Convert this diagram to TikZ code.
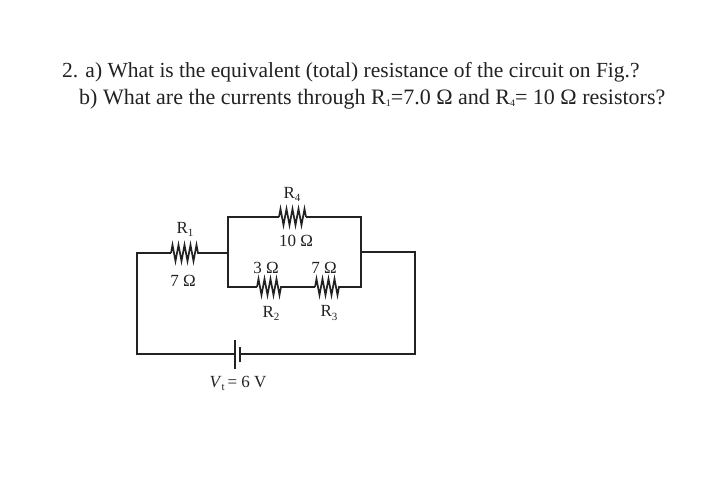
\documentclass[tikz,border=0pt]{standalone}
\usepackage{fontspec}
\setmainfont{Liberation Serif}
\usetikzlibrary{decorations.pathmorphing}
\definecolor{ink}{HTML}{222222}
\tikzset{
  wire/.style={draw=ink,line width=1.4pt,line join=miter},
  res/.style={draw=ink,line width=1.7pt,decorate,decoration={zigzag,segment length=6pt,amplitude=8pt}},
  question/.style={inner sep=0pt,anchor=base west,text=ink,font=\fontsize{21.5}{25}\selectfont},
  questiontwo/.style={question,font=\fontsize{22}{25}\selectfont},
  lab/.style={inner sep=0pt,anchor=base,text=ink,font=\fontsize{17}{20}\selectfont},
  plate/.style={draw=ink,line width=1.6pt}
}
\newcommand{\sub}[1]{\raisebox{-3pt}{\fontsize{11}{12}\selectfont #1}}
\newcommand{\tinysub}[1]{\raisebox{-1.5pt}{\fontsize{10}{11}\selectfont #1}}
\begin{document}
\begin{tikzpicture}[x=1pt,y=-1pt]
\useasboundingbox (0,0) rectangle (723,478);
\fill[white] (0,0) rectangle (723,478);
\node[question] (q1) at (62,78) {2. a) What is the equivalent (total) resistance of the circuit on Fig.?};
\node[questiontwo] (q2) at (79,105) {b) What are the currents through R\tinysub{1}=7.0 Ω and R\tinysub{4}= 10 Ω resistors?};
% junctions
\coordinate (ll) at (137,253);
\coordinate (bl) at (137,354);
\coordinate (br) at (415,354);
\coordinate (rr) at (415,252);
\coordinate (jr) at (361,252);
\coordinate (jl) at (228,253);
\coordinate (tl) at (228,217);
\coordinate (tr) at (361,217);
\coordinate (dl) at (228,287);
\coordinate (dr) at (361,287);
% resistors ends
\coordinate (r1a) at (171,253); \coordinate (r1b) at (199,253);
\coordinate (r4a) at (279,217); \coordinate (r4b) at (306,217);
\coordinate (r2a) at (257,287); \coordinate (r2b) at (283,287);
\coordinate (r3a) at (315,287); \coordinate (r3b) at (341,287);
% battery
\coordinate (b1) at (235,354); \coordinate (b2) at (241,354);
\coordinate (b1t) at (235,340); \coordinate (b1b) at (235,369);
\coordinate (b2t) at (240,347); \coordinate (b2b) at (240,362);
\draw[wire] (r1a) -- (ll) -- (bl) -- (b1);
\draw[wire] (b2) -- (br) -- (rr) -- (jr);
\draw[wire] (r1b) -- (jl);
\draw[wire] (r4a) -- (tl) -- (dl) -- (r2a);
\draw[wire] (r4b) -- (tr) -- (dr) -- (r3b);
\draw[wire] (r2b) -- (r3a);
\draw[res] (r1a) -- (r1b);
\draw[res] (r4a) -- (r4b);
\draw[res] (r2a) -- (r2b);
\draw[res] (r3a) -- (r3b);
\draw[plate] (b1t) -- (b1b);
\draw[plate] (b2t) -- (b2b);
\node[lab] (lr1) at (185,234) {R\sub{1}};
\node[lab] (l7a) at (183,287) {7 Ω};
\node[lab] (lr4) at (292,199) {R\sub{4}};
\node[lab] (l10) at (296,247) {10 Ω};
\node[lab] (l3) at (266,274) {3 Ω};
\node[lab] (l7b) at (324,274) {7 Ω};
\node[lab] (lr2) at (271,318) {R\sub{2}};
\node[lab] (lr3) at (329,317) {R\sub{3}};
\node[lab] (lv) at (238,387) {\textit{V}\sub{t}\,= 6 V};
\end{tikzpicture}
\end{document}
